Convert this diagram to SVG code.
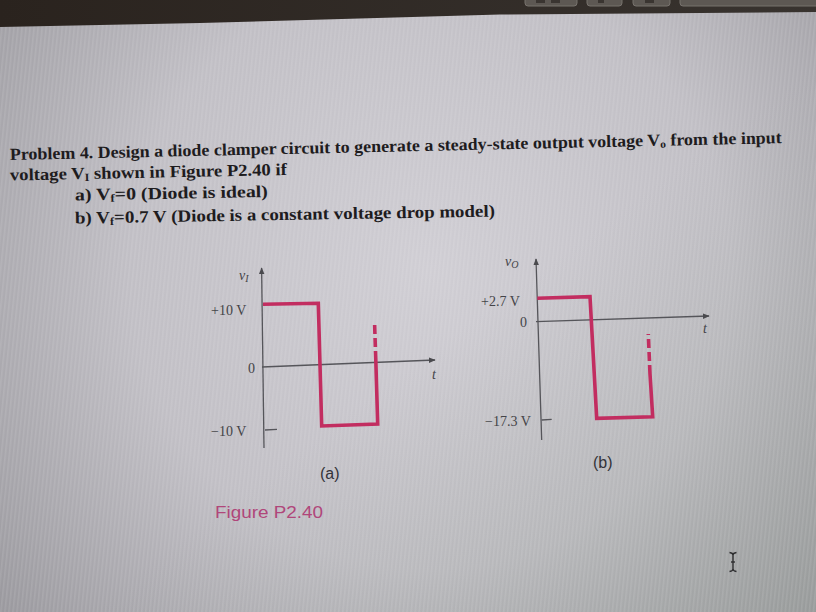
<svg xmlns="http://www.w3.org/2000/svg" width="816" height="612" viewBox="0 0 816 612">
<defs>
<radialGradient id="bg" cx="430" cy="270" r="600" gradientUnits="userSpaceOnUse">
<stop offset="0" stop-color="#d0ced4"/>
<stop offset="0.5" stop-color="#c1bfc5"/>
<stop offset="1" stop-color="#929196"/>
</radialGradient>
<linearGradient id="br" x1="0" y1="0" x2="1" y2="1">
<stop offset="0.55" stop-color="#9aa39a" stop-opacity="0"/>
<stop offset="1" stop-color="#8f9790" stop-opacity="0.45"/>
</linearGradient>
<linearGradient id="bar" x1="0" y1="0" x2="1" y2="0">
<stop offset="0" stop-color="#2a231e"/>
<stop offset="1" stop-color="#38332f"/>
</linearGradient>
<pattern id="stripes" width="4" height="8" patternUnits="userSpaceOnUse" patternTransform="rotate(6)">
<rect x="0" y="0" width="1.6" height="8" fill="#ffffff" fill-opacity="0.10"/>
</pattern>
<marker id="arr" viewBox="0 0 10 10" refX="9" refY="5" markerWidth="7" markerHeight="7" orient="auto" markerUnits="userSpaceOnUse">
<path d="M0,1 L10,5 L0,9 Z" fill="#4a4a4e"/>
</marker>
<style>
.txt{font-family:"Liberation Serif","Times New Roman",serif;font-size:17px;font-weight:bold;fill:#1e1c1e}
.lab{font-family:"Liberation Serif","Times New Roman",serif;font-size:14px;fill:#444448}
.ital{font-style:italic}
.axis{stroke:#55555a;stroke-width:1.3;fill:none}
.wave{stroke:#c22d60;stroke-width:3.6;fill:none;stroke-linejoin:miter}
.dash{stroke:#c22d60;stroke-width:3.6;fill:none;stroke-dasharray:9 4}
.cap{font-family:"Liberation Sans",Arial,sans-serif;font-size:16px;fill:#333338}
.fig{font-family:"Liberation Sans",Arial,sans-serif;font-size:16px;fill:#b0467a}
</style>
</defs>
<rect x="0" y="0" width="816" height="612" fill="url(#bg)"/>
<rect x="0" y="0" width="816" height="612" fill="url(#br)"/>
<rect x="0" y="0" width="816" height="612" fill="url(#stripes)"/>
<g id="topbar">
<path d="M0,0 H816 V12 L500,14.5 L200,23 L0,27 Z" fill="url(#bar)"/>
<rect x="525" y="-6" width="52" height="12" rx="3" fill="#5d5853" stroke="#77726d"/>
<rect x="536" y="-3" width="9" height="6" fill="#3a3531"/>
<rect x="551" y="-3" width="9" height="6" fill="#3a3531"/>
<rect x="587" y="-6" width="35" height="12" rx="3" fill="#5d5853" stroke="#77726d"/>
<rect x="598" y="-3" width="6" height="6" fill="#3a3531"/>
<rect x="633" y="-6" width="37" height="12" rx="3" fill="#5d5853" stroke="#77726d"/>
<rect x="645" y="-3" width="9" height="6" fill="#3a3531"/>
<rect x="680" y="-6" width="140" height="12" rx="3" fill="#5d5853" stroke="#77726d"/>
</g>
<g id="problem-text">
<text class="txt" x="10" y="160" transform="rotate(-1.25 10 160)" textLength="772" lengthAdjust="spacingAndGlyphs">Problem 4. Design a diode clamper circuit to generate a steady-state output voltage V<tspan font-size="11" dy="2">o</tspan><tspan dy="-2"> from the input</tspan></text>
<text class="txt" x="10" y="180.5" transform="rotate(-1.15 10 180.5)" textLength="277" lengthAdjust="spacingAndGlyphs">voltage V<tspan font-size="11" dy="2">I</tspan><tspan dy="-2"> shown in Figure P2.40 if</tspan></text>
<text class="txt" x="75" y="200.5" transform="rotate(-1.05 75 200.5)" textLength="193" lengthAdjust="spacingAndGlyphs">a) V<tspan font-size="11" dy="2">f</tspan><tspan dy="-2">=0 (Diode is ideal)</tspan></text>
<text class="txt" x="75" y="223.5" transform="rotate(-0.95 75 223.5)" textLength="150" lengthAdjust="spacingAndGlyphs">b) V<tspan font-size="11" dy="2">f</tspan><tspan dy="-2">=0.7 V (Diode</tspan></text>
<text class="txt" x="229.6" y="220.9" transform="rotate(-0.95 229.6 220.9)" textLength="99.5" lengthAdjust="spacingAndGlyphs">is a constant</text>
<text class="txt" x="333.8" y="219.2" transform="rotate(-0.95 333.8 219.2)" textLength="161.2" lengthAdjust="spacingAndGlyphs">voltage drop model)</text>
</g>
<g id="graph-a">
<line class="axis" x1="264" y1="448" x2="261.6" y2="268" marker-end="url(#arr)"/>
<line class="axis" x1="262" y1="367" x2="435" y2="360" marker-end="url(#arr)"/>
<line class="axis" x1="265" y1="430" x2="277" y2="429.4"/>
<polyline class="wave" points="263,304.3 318.3,303.3 321.7,426 377.7,424 375.8,360"/>
<line class="dash" x1="375.8" y1="360" x2="374.5" y2="321"/>
<text class="lab ital" x="239" y="280" font-size="15">v<tspan font-size="10" dy="2">I</tspan></text>
<text class="lab" x="211" y="315">+10 V</text>
<text class="lab" x="248" y="373">0</text>
<text class="lab ital" x="432" y="379">t</text>
<text class="lab" x="211" y="436">−10 V</text>
<text class="cap" x="320" y="479">(a)</text>
</g>
<g id="graph-b">
<line class="axis" x1="541.7" y1="440" x2="536" y2="259" marker-end="url(#arr)"/>
<line class="axis" x1="536" y1="321.7" x2="709" y2="316" marker-end="url(#arr)"/>
<line class="axis" x1="541.7" y1="420" x2="551.7" y2="419.3"/>
<polyline class="wave" points="537.3,298.3 590,296.7 596.7,418.3 652.7,416.7 650,374"/>
<line class="dash" x1="650" y1="374" x2="648.3" y2="334"/>
<text class="lab ital" x="505" y="266" font-size="15">v<tspan font-size="10" dy="2">O</tspan></text>
<text class="lab" x="481" y="306">+2.7 V</text>
<text class="lab" x="520" y="327">0</text>
<text class="lab ital" x="703" y="333">t</text>
<text class="lab" x="485" y="426">−17.3 V</text>
<text class="cap" x="593" y="468">(b)</text>
</g>
<text class="fig" x="215" y="518" textLength="108" lengthAdjust="spacingAndGlyphs">Figure P2.40</text>
<g id="cursor" stroke="#2e2e30" stroke-width="1.4" fill="none">
<path d="M729.5,552.5 Q733,553 733,555 Q733,553 736.5,552.5"/>
<line x1="733" y1="555" x2="733" y2="569"/>
<path d="M729.5,571.5 Q733,571 733,569 Q733,571 736.5,571.5"/>
<line x1="731" y1="562" x2="735" y2="562"/>
</g>
</svg>
